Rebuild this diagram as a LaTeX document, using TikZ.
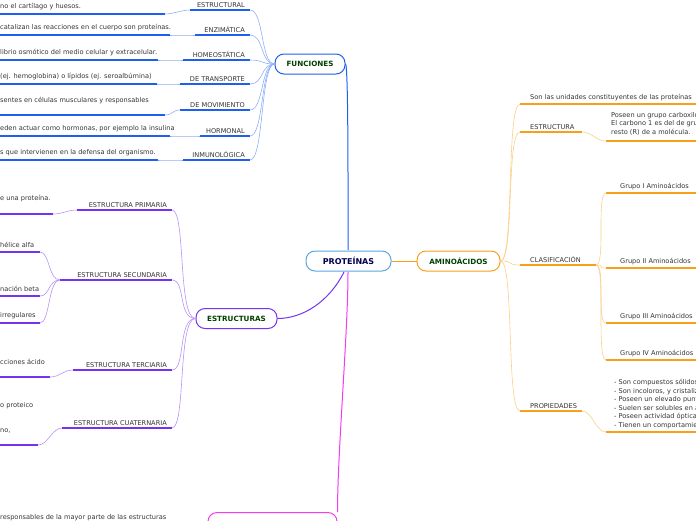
\documentclass[tikz,border=0pt]{standalone}
\usepackage{fontspec}
\setmainfont{DejaVu Sans}
\definecolor{cblue}{HTML}{1F5FF0}
\definecolor{cbluel}{HTML}{8DB0F8}
\definecolor{cpur}{HTML}{7433F2}
\definecolor{cpurl}{HTML}{B792F6}
\definecolor{cora}{HTML}{F7A11A}
\definecolor{coral}{HTML}{FBCF88}
\definecolor{cmag}{HTML}{F23CF2}
\definecolor{cprot}{HTML}{5AA8E0}
\begin{document}
\begin{tikzpicture}[x=1pt,y=-1pt,
  txt/.style={font=\fontsize{6.6}{8.5}\selectfont,text=black!80,inner sep=0pt},
  main/.style={draw,rounded corners=9pt,line width=1pt,font=\fontsize{7.2}{8}\selectfont\bfseries,text=green!25!black,fill=white,minimum height=20pt,inner sep=0pt},
  fu/.style={line width=1.2pt,color=cblue},
  fc/.style={line width=0.6pt,color=cbluel},
  es/.style={line width=1.2pt,color=cpur},
  ec/.style={line width=0.6pt,color=cpurl},
  am/.style={line width=1.2pt,color=cora},
  ac/.style={line width=0.6pt,color=coral}]
\useasboundingbox (0,0) rectangle (696,520);
\clip (0,0) rectangle (696,520);
% main nodes
\node[main,draw=cprot,minimum width=85pt,text=blue!30!black,font=\fontsize{8}{9}\selectfont\bfseries] (prot) at (348.5,261) {PROTEÍNAS};
\node[main,draw=cblue,minimum width=70pt] (fun) at (310,64) {FUNCIONES};
\node[main,draw=cpur,minimum width=81pt] (est) at (236.5,318.5) {ESTRUCTURAS};
\node[main,draw=cora,minimum width=83pt] (ami) at (458.5,261) {AMINOÁCIDOS};
\node[main,draw=cmag,minimum width=129pt,anchor=north] (bot) at (272.5,512) {};
% main connectors
\draw[line width=1pt,cblue] (fun.east) .. controls +(3,0) and +(0,-40) .. (348,250);
\draw[line width=1pt,cmag] (348,272) .. controls +(0,60) and +(0,-60) .. (bot.north east);
\draw[line width=1pt,cpur] (344,272) .. controls +(-15,30) and +(25,0) .. (est.east);
\draw[line width=1pt,cora] (prot.east) -- (ami.west);
% FUNCIONES
\foreach \lab/\ly/\lx/\cy/\cx/\ct in {
 ESTRUCTURAL/10/190/14/165/{no el cartílago y huesos.},
 ENZIMÁTICA/35/195/35/170/{catalizan las reacciones en el cuerpo son proteínas.},
 HOMEOSTÁTICA/60/183/60/158/{librio osmótico del medio celular y extracelular.},
 DE TRANSPORTE/84/180/84/157/{(ej. hemoglobina) o lípidos (ej. seroalbúmina)},
 DE MOVIMIENTO/110/180/115/165/{},
 HORMONAL/136/200/136/170/{eden actuar como hormonas, por ejemplo la insulina},
 INMUNOLÓGICA/160/183/160/158/{s que intervienen en la defensa del organismo.}}{
 \node[txt,anchor=south east] at (245,\ly-2.5) {\lab};
 \coordinate (fa) at (250,\ly); \coordinate (fb) at (\lx,\ly);
 \coordinate (fc) at (\cx,\cy);
 \draw[fu] (fb) -- (fa);
 \draw[fc] (fun.west) .. controls +(-14,0) and +(14,0) .. (fa);
 \draw[fu] (0,\cy) -- (fc);
 \draw[fc] (fc) .. controls +(8,0) and +(-8,0) .. (fb);
 \node[txt,anchor=south west] at (0,\cy-4) {\ct};
}
\node[txt,anchor=south west] at (0,1.5) {s celulares contienen proteínas, también tiendas};
\node[txt,anchor=south west] at (0,104) {sentes en células musculares y responsables};
% ESTRUCTURAS
\foreach \lab/\ly/\lx in {ESTRUCTURA PRIMARIA/210/77,ESTRUCTURA SECUNDARIA/280/60,ESTRUCTURA TERCIARIA/370/73,ESTRUCTURA CUATERNARIA/428/62}{
 \node[txt,anchor=south east] at (167,\ly-2.5) {\lab};
 \coordinate (ea) at (172,\ly); \coordinate (eb) at (\lx,\ly);
 \draw[es] (eb) -- (ea);
 \draw[ec] (est.west) .. controls +(-18,0) and +(14,0) .. (ea);
}
\foreach \cy/\cx/\px/\py in {214/53/77/210,377/50/73/370,445/38/62/428}{
 \coordinate (ca) at (\cx,\cy); \coordinate (cb) at (\px,\py);
 \draw[es] (0,\cy) -- (ca);
 \draw[ec] (ca) .. controls +(10,0) and +(-10,0) .. (cb);
}
\foreach \cy in {252,296,323}{
 \coordinate (sa) at (40,\cy);
 \draw[es] (0,\cy) -- (sa);
 \draw[ec] (60,280) .. controls +(-12,0) and +(10,0) .. (sa);
}
\node[txt,anchor=south west] at (0,202) {e una proteína.};
\node[txt,anchor=south west] at (0,248) {hélice alfa};
\node[txt,anchor=south west] at (0,292) {nación beta};
\node[txt,anchor=south west] at (0,319) {irregulares};
\node[txt,anchor=south west] at (0,365) {cciones ácido};
\node[txt,anchor=south west] at (0,409) {o proteico};
\node[txt,anchor=south west] at (0,433) {no,};
\node[txt,anchor=south west] at (0,521) {responsables de la mayor parte de las estructuras};
% AMINOACIDOS
\foreach \lab/\ly/\lx in {{Son las unidades constituyentes de las proteínas}/104/696,ESTRUCTURA/132/582,CLASIFICACIÓN/265/596,PROPIEDADES/411/582}{
 \node[txt,anchor=south west] at (530,\ly-2.5) {\lab};
 \coordinate (aa) at (520,\ly); \coordinate (ab) at (\lx,\ly);
 \draw[am] (aa) -- (ab);
 \draw[ac] (ami.east) .. controls +(14,0) and +(-14,0) .. (aa);
}
\foreach \cy/\px/\py/\ct in {141/582/132/{},193/596/265/Grupo I Aminoácidos,268/596/265/Grupo II Aminoácidos,323/596/265/Grupo III Aminoácidos,360/596/265/Grupo IV Aminoácidos,432/582/411/{}}{
 \coordinate (ga) at (606,\cy); \coordinate (gb) at (\px,\py);
 \draw[am] (ga) -- (696,\cy);
 \draw[ac] (gb) .. controls +(10,0) and +(-10,0) .. (ga);
 \node[txt,anchor=south west] at (620,\cy-2.5) {\ct};
}
\node[txt,anchor=north west,align=left] at (611,112) {Poseen un grupo carboxilo y un grupo amino\\El carbono 1 es del de grupo carboxilo\\resto (R) de a molécula.};
\node[txt,anchor=north west,align=left,font=\fontsize{6.6}{8.6}\selectfont] at (614,379) {- Son compuestos sólidos\\- Son incoloros, y cristalizables\\- Poseen un elevado punto de fusión\\- Suelen ser solubles en agua\\- Poseen actividad óptica\\- Tienen un comportamiento anfótero};
\end{tikzpicture}
\end{document}
